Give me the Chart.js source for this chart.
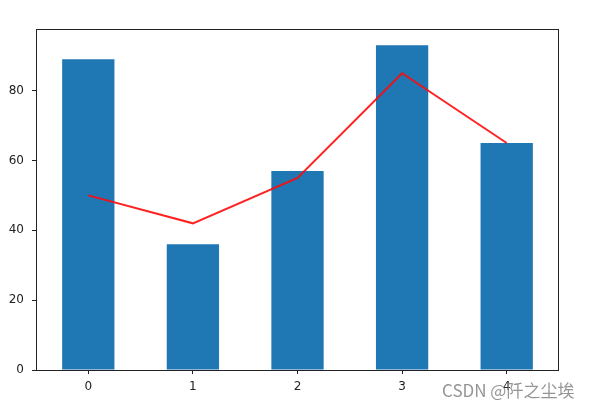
<!DOCTYPE html>
<html lang="zh">
<head>
    <meta charset="UTF-8">
    <title>Bar + Line</title>
    <script src="https://cdn.jsdelivr.net/npm/chart.js"></script>
    <style>
        body {
            margin: 0;
            background: #fff;
        }
        #wrap {
            position: relative;
            width: 593px;
            height: 408px;
        }
        #mark {
            position: absolute;
            left: 442px;
            top: 377px;
            font-family: "Noto Sans CJK SC", "Noto Sans", sans-serif;
            font-size: 17px;
            color: rgba(130, 130, 130, 0.85);
            white-space: nowrap;
        }
    </style>
</head>
<body>
<div id="wrap">
    <canvas id="chart" width="593" height="408"></canvas>
    <div id="mark">CSDN @阡之尘埃</div>
</div>

<script>
    const categories = ['0', '1', '2', '3', '4'];
    const barValues = [89, 36, 57, 93, 65];
    const lineValues = [50, 42, 55, 85, 65];
    const yTicks = [0, 20, 40, 60, 80];

    // box around the plot area, like matplotlib spines
    const frame = {
        id: 'frame',
        afterDatasetsDraw(chart) {
            const a = chart.chartArea;
            const ctx = chart.ctx;
            ctx.save();
            ctx.strokeStyle = '#222';
            ctx.lineWidth = 1;
            ctx.strokeRect(a.left + 0.5, a.top + 0.5, a.right - a.left - 1, a.bottom - a.top);
            ctx.restore();
        }
    };

    const tickFont = { family: '"DejaVu Sans", sans-serif', size: 12 };

    new Chart(document.getElementById('chart'), {
        data: {
            labels: categories,
            datasets: [
                {
                    type: 'line',
                    data: lineValues,
                    borderColor: 'rgba(255, 10, 10, 0.9)',
                    borderWidth: 2,
                    pointRadius: 0,
                    tension: 0,
                    order: 0
                },
                {
                    type: 'bar',
                    data: barValues,
                    backgroundColor: '#1f77b4',
                    categoryPercentage: 1,
                    barPercentage: 0.5,
                    order: 1
                }
            ]
        },
        options: {
            responsive: false,
            animation: false,
            layout: { padding: { top: 29, right: 34, left: 0, bottom: 0 } },
            plugins: {
                legend: { display: false },
                tooltip: { enabled: false }
            },
            scales: {
                x: {
                    offset: true,
                    grid: { offset: false, drawOnChartArea: false, drawTicks: true, tickLength: 4, color: '#222' },
                    border: { display: false },
                    ticks: { color: '#222', font: tickFont, padding: 6, maxRotation: 0 },
                    afterFit(scale) { scale.height = 38; }
                },
                y: {
                    min: 0,
                    max: 97.65,
                    grid: { drawOnChartArea: false, drawTicks: true, tickLength: 4, color: '#222' },
                    border: { display: false },
                    ticks: { color: '#222', font: tickFont, padding: 8, includeBounds: false, stepSize: 20 },
                    afterBuildTicks(scale) { scale.ticks = yTicks.map(v => ({ value: v })); },
                    afterFit(scale) { scale.width = 36; }
                }
            }
        },
        plugins: [frame]
    });
</script>
</body>
</html>
